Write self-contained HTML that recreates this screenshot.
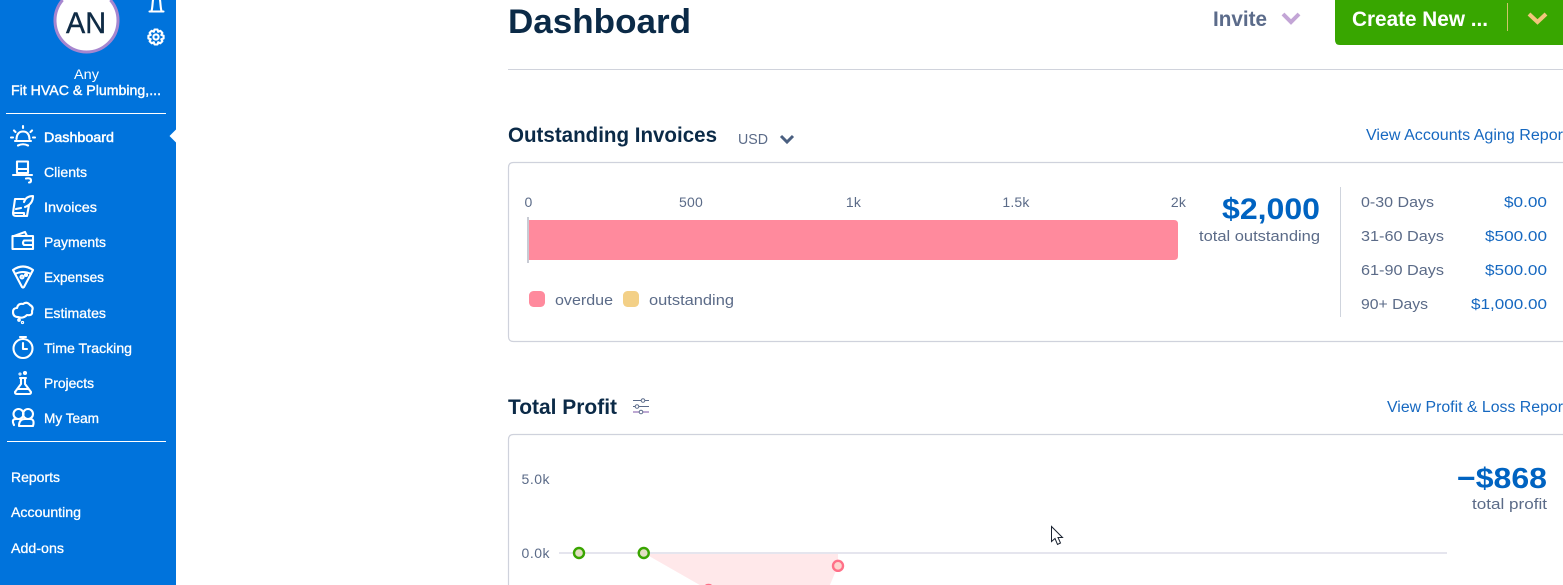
<!DOCTYPE html>
<html lang="en">
<head>
<meta charset="utf-8">
<title>Dashboard</title>
<style>
html,body{margin:0;padding:0;background:#fff;width:1563px;height:585px;overflow:hidden}
svg{display:block;font-family:"Liberation Sans",sans-serif;overflow:hidden}
.nav{fill:#fff;font-size:14px;stroke:#fff;stroke-width:.3}
.ico{fill:none;stroke:#fff;stroke-width:2.1;stroke-linecap:round;stroke-linejoin:round}
.h{fill:#0b2a47;font-weight:700}
.g{fill:#5b6b88}
.lnk{fill:#1668c0}
</style>
</head>
<body>
<svg id="page" width="1563" height="585" viewBox="0 0 1563 585" xmlns="http://www.w3.org/2000/svg">
<defs><clipPath id="frame-clip"><rect width="1563" height="585"/></clipPath></defs>
<rect width="1563" height="585" fill="#fff"/>

<g>
<rect width="176" height="585" fill="#0073dc"/>
<path d="M176 129.500L169.500 136L176 142.500Z" fill="#fff"/>
<path d="M62.600 0A31.500 31.500 0 1 0 110.400 0" fill="#fff" stroke="#a686cf" stroke-width="3"/>
<text x="66" y="33" font-size="30" fill="#0f2b45" stroke="#0f2b45" stroke-width=".4" textLength="40" lengthAdjust="spacingAndGlyphs">AN</text>
<path class="ico" d="M149.500 11.500H163.500M151.500 11C152.500 8 152.500 3 153 0M161.500 11C160.500 8 160.500 3 160 0" stroke-width="2"/>
<g>
<circle class="ico" cx="156" cy="37" r="2.600" stroke-width="1.700"/>
<path class="ico" stroke-width="1.700" d="M154.500 29.500H157.500L158.200 31.800L160.300 30.800L162.400 32.900L161.300 35L163.600 35.600V38.500L161.300 39.200L162.400 41.200L160.300 43.300L158.200 42.200L157.500 44.500H154.500L153.800 42.200L151.700 43.300L149.600 41.200L150.700 39.200L148.400 38.500V35.600L150.700 35L149.600 32.900L151.700 30.800L153.800 31.800Z"/>
</g>
<text x="74" y="79" font-size="13.500" fill="#fff" textLength="25" lengthAdjust="spacingAndGlyphs">Any</text>
<text class="nav" x="11" y="95" textLength="150" lengthAdjust="spacingAndGlyphs" style="stroke-width:.4">Fit HVAC &amp; Plumbing,...</text>
<rect x="6" y="113" width="160" height="1" fill="#fff"/>

<g>
<path class="ico" d="M15 141H31M18 145.500Q23 143 28 145.500M16.500 139Q17 131.500 23 131.500Q29 131.500 29.500 139M23 126V128M14 130.500L15.500 132M32 130.500L30.500 132M11 137.500H13M33 137.500H35"/>
<text class="nav" x="44" y="142" textLength="70" lengthAdjust="spacingAndGlyphs" style="stroke-width:.5">Dashboard</text>
</g>
<g>
<path class="ico" d="M17 161.500H28V173H17ZM17 169H28M13 175H32M26 178.500Q31 177.500 31 180.500Q31 182.500 29 182.500"/>
<text class="nav" x="44" y="177" textLength="43" lengthAdjust="spacingAndGlyphs">Clients</text>
</g>
<g>
<path class="ico" d="M15 199H24M15 199L13 213Q13 216 16 216H27L29 205M21 208L16 209M13 213H24V216M24 202Q26 196 33 196Q33 204 25 207"/>
<text class="nav" x="44" y="212" textLength="53" lengthAdjust="spacingAndGlyphs">Invoices</text>
</g>
<g>
<path class="ico" d="M12.500 236H33V249H12.500ZM14 236L25 232L27 236M24 240.500H33V245H24Q22 243 24 240.500Z"/>
<text class="nav" x="44" y="247" textLength="62" lengthAdjust="spacingAndGlyphs">Payments</text>
</g>
<g>
<path class="ico" d="M13 270Q23 263 33 270L24 287Q23 288 22 287ZM15 274Q23 270 31 274"/>
<circle class="ico" cx="22" cy="277" r="1.500"/><circle class="ico" cx="26" cy="275" r="1"/>
<text class="nav" x="44" y="282" textLength="60" lengthAdjust="spacingAndGlyphs">Expenses</text>
</g>
<g>
<path class="ico" d="M18 317Q13 317 13 312Q13 308 17 308Q18 303 23 304Q27 301 30 305Q34 307 32 311Q33 316 27 315Q23 319 18 317Z"/>
<circle class="ico" cx="19" cy="320" r=".8"/><circle class="ico" cx="22.500" cy="322.500" r=".6"/>
<text class="nav" x="44" y="318" textLength="62" lengthAdjust="spacingAndGlyphs">Estimates</text>
</g>
<g>
<circle class="ico" cx="23" cy="348.500" r="9.500"/>
<path class="ico" d="M23 343V349H27M20 337H26M23 337V339"/>
<text class="nav" x="44" y="353" textLength="88" lengthAdjust="spacingAndGlyphs">Time Tracking</text>
</g>
<g>
<path class="ico" d="M20 378H26M21 378V384L15 392Q15 394 17 394H29Q31 394 31 392L25 384V378M18 389H28"/>
<circle class="ico" cx="25" cy="373" r="1"/><circle class="ico" cx="20" cy="374" r=".5"/>
<text class="nav" x="44" y="388" textLength="50" lengthAdjust="spacingAndGlyphs">Projects</text>
</g>
<g>
<circle class="ico" cx="18.500" cy="414" r="5"/><circle class="ico" cx="28" cy="414" r="5"/>
<path class="ico" d="M14 425Q11 419 16 419H21M19 426Q19 419 25 419H30Q35 419 33 426Z"/>
<text class="nav" x="44" y="423" textLength="55" lengthAdjust="spacingAndGlyphs">My Team</text>
</g>
<rect x="7" y="441" width="159" height="1" fill="#fff"/>
<text class="nav" x="11" y="482" textLength="49" lengthAdjust="spacingAndGlyphs">Reports</text>
<text class="nav" x="11" y="517" textLength="70" lengthAdjust="spacingAndGlyphs">Accounting</text>
<text class="nav" x="11" y="553" textLength="53" lengthAdjust="spacingAndGlyphs">Add-ons</text>
</g>

<g>
<text class="h" x="508" y="33" font-size="34" textLength="183" lengthAdjust="spacingAndGlyphs">Dashboard</text>
<text x="1213" y="26" font-size="21" font-weight="700" fill="#5b6b8a" textLength="54" lengthAdjust="spacingAndGlyphs">Invite</text>
<path d="M1283 14L1291 22L1299 14" fill="none" stroke="#c3a5d6" stroke-width="4"/>
<path d="M1335 0H1563V45H1340Q1335 45 1335 40Z" fill="#38a600"/>
<text x="1352" y="26" font-size="21" font-weight="700" fill="#fff" textLength="136" lengthAdjust="spacingAndGlyphs">Create New ...</text>
<rect x="1507" y="3" width="1" height="28" fill="#cfc56a"/>
<path d="M1529 14L1537.500 22L1546 14" fill="none" stroke="#f2c57c" stroke-width="4"/>
<rect x="508" y="69" width="1055" height="1" fill="#d0d3dc"/>
</g>

<g>
<text class="h" x="508" y="142" font-size="21" textLength="209" lengthAdjust="spacingAndGlyphs">Outstanding Invoices</text>
<text class="g" x="738" y="144" font-size="15" textLength="30" lengthAdjust="spacingAndGlyphs">USD</text>
<path d="M781 136L787 142L793 136" fill="none" stroke="#4a5f80" stroke-width="3"/>
<text class="lnk" x="1366" y="140" font-size="15.500" textLength="197" lengthAdjust="spacingAndGlyphs">View Accounts Aging Repor</text>
<path d="M1563 162.500H513.500Q508.500 162.500 508.500 167.500V336.500Q508.500 341.500 513.500 341.500H1563" fill="#fff" stroke="#cfd2dc" stroke-width="1.200"/>
<g id="bar-chart"></g>
<rect x="529" y="291" width="16" height="16" rx="4.500" fill="#ff8a9d"/>
<text class="g" x="555" y="305" font-size="15" textLength="58" lengthAdjust="spacingAndGlyphs">overdue</text>
<rect x="623" y="291" width="16" height="16" rx="4.500" fill="#f3d087"/>
<text class="g" x="649" y="305" font-size="15" textLength="85" lengthAdjust="spacingAndGlyphs">outstanding</text>
<text x="1222" y="219" font-size="30" font-weight="700" fill="#0063c1" textLength="98" lengthAdjust="spacingAndGlyphs">$2,000</text>
<text class="g" x="1199" y="241" font-size="15" textLength="121" lengthAdjust="spacingAndGlyphs">total outstanding</text>
<rect x="1340" y="187" width="1" height="130" fill="#cfd4dd"/>
<g>
<text class="g" x="1361" y="207" font-size="15" textLength="73" lengthAdjust="spacingAndGlyphs">0-30 Days</text>
<text class="lnk" x="1504" y="207" font-size="15" textLength="43" lengthAdjust="spacingAndGlyphs">$0.00</text>
<text class="g" x="1361" y="241" font-size="15" textLength="83" lengthAdjust="spacingAndGlyphs">31-60 Days</text>
<text class="lnk" x="1485" y="241" font-size="15" textLength="62" lengthAdjust="spacingAndGlyphs">$500.00</text>
<text class="g" x="1361" y="275" font-size="15" textLength="83" lengthAdjust="spacingAndGlyphs">61-90 Days</text>
<text class="lnk" x="1485" y="275" font-size="15" textLength="62" lengthAdjust="spacingAndGlyphs">$500.00</text>
<text class="g" x="1361" y="309" font-size="15" textLength="67" lengthAdjust="spacingAndGlyphs">90+ Days</text>
<text class="lnk" x="1471" y="309" font-size="15" textLength="76" lengthAdjust="spacingAndGlyphs">$1,000.00</text>
</g>
</g>

<g>
<text class="h" x="508" y="414" font-size="21" textLength="109" lengthAdjust="spacingAndGlyphs">Total Profit</text>
<g fill="none" stroke="#5b6b8a" stroke-width="1">
<path d="M633 400.500H649M633 406.500H649"/><path d="M633 412H649" stroke="#a98cc4" stroke-width="1.500"/>
<circle cx="643" cy="400.500" r="1.800" fill="#fff"/><circle cx="637" cy="406.500" r="1.800" fill="#fff"/><circle cx="641" cy="412" r="1.800" fill="#fff"/>
</g>
<text class="lnk" x="1387" y="412" font-size="15.500" textLength="176" lengthAdjust="spacingAndGlyphs">View Profit &amp; Loss Repor</text>
<path d="M1563 434.500H513.500Q508.500 434.500 508.500 439.500V585" fill="#fff" stroke="#cfd2dc" stroke-width="1.200"/>
<g id="profit-chart" clip-path="url(#frame-clip)"></g>
<text x="1457" y="488" font-size="29" font-weight="700" fill="#0063c1" textLength="90" lengthAdjust="spacingAndGlyphs">−$868</text>
<text class="g" x="1472" y="509" font-size="15" textLength="75" lengthAdjust="spacingAndGlyphs">total profit</text>
</g>

<path d="M1051.500 526.500V541.500L1055 538.500L1057.500 544.500L1060.500 543L1058 537.500H1062.500Z" fill="#fff" stroke="#1a2230" stroke-width="1"/>
</svg>

<script>
// Outstanding invoices bar chart data
const barCategories = ['overdue', 'outstanding'];
const barValues = [2000, 0];
const barTickValues = [0, 500, 1000, 1500, 2000];
const barTickLabels = ['0', '500', '1k', '1.5k', '2k'];
const barColors = ['#ff8a9d', '#f3d087'];

// Total profit chart data
const profitMonths = ['m1', 'm2', 'm3', 'm4', 'm5'];
const profitValues = [0, 0, -2500, -11200, -868];
const profitTickValues = [5000, 0];
const profitTickLabels = ['5.0k', '0.0k'];

const NS = 'http://www.w3.org/2000/svg';
function make(tag, parent, props, text) {
  const el = document.createElementNS(NS, tag);
  for (const k in props) el.setAttribute(k, props[k]);
  if (text !== undefined) el.textContent = text;
  parent.appendChild(el);
  return el;
}

// Bar chart
const barX = v => 528 + v * (650 / 2000);
const barRoot = document.getElementById('bar-chart');
barTickValues.forEach((v, i) => {
  const t = make('text', barRoot, {x: barX(v) + 0.5, y: 207, 'font-size': 14, 'letter-spacing': 0.2, fill: '#5b6b88', 'text-anchor': 'middle'}, barTickLabels[i]);
  
  
});
let barStack = 0;
barValues.forEach((v, i) => {
  if (v <= 0) return;
  const x0 = barX(barStack), x1 = barX(barStack + v);
  const r = 4;
  const bar = make('path', barRoot, {
    d: 'M' + x0 + ' 220H' + (x1 - r) + 'Q' + x1 + ' 220 ' + x1 + ' ' + (220 + r) + 'V' + (260 - r) + 'Q' + x1 + ' 260 ' + (x1 - r) + ' 260H' + x0 + 'Z',
    fill: barColors[i]
  });
  
  
  barStack += v;
});
const barAxis = make('rect', barRoot, {x: 527, y: 217, width: 2, height: 46, fill: '#c8cbd4'});



// Profit chart
const profitX = i => 579 + i * 64.75;
const profitY = v => 553 - v * (74 / 5000);
const profitRoot = document.getElementById('profit-chart');
profitTickValues.forEach((v, i) => {
  const t = make('text', profitRoot, {x: 550, y: profitY(v) + 5, 'font-size': 14, 'letter-spacing': 0.5, fill: '#5b6b88', 'text-anchor': 'end'}, profitTickLabels[i]);
  
  
});
let firstNeg = profitValues.findIndex(v => v < 0);
let lastNeg = profitValues.length - 1;
let areaPath = 'M' + profitX(firstNeg - 1) + ' ' + profitY(0);
for (let i = firstNeg; i <= lastNeg; i++) {
  areaPath += 'L' + profitX(i) + ' ' + profitY(profitValues[i]);
}
areaPath += 'L' + profitX(lastNeg) + ' ' + profitY(0) + 'Z';
const area = make('path', profitRoot, {d: areaPath, fill: '#ffe8ea'});


const zeroLine = make('rect', profitRoot, {x: 559, y: profitY(0) - 1, width: 888, height: 2, fill: '#e5e5ee'});


profitMonths.forEach((m, i) => {
  const neg = profitValues[i] < 0;
  const p = make('circle', profitRoot, {
    cx: profitX(i), cy: profitY(profitValues[i]), r: 5,
    fill: neg ? '#fdd5cf' : '#e2dfc2',
    stroke: neg ? '#ff7088' : '#39a500',
    'stroke-width': 2.4
  });
  
  
});
</script>
</body>
</html>
